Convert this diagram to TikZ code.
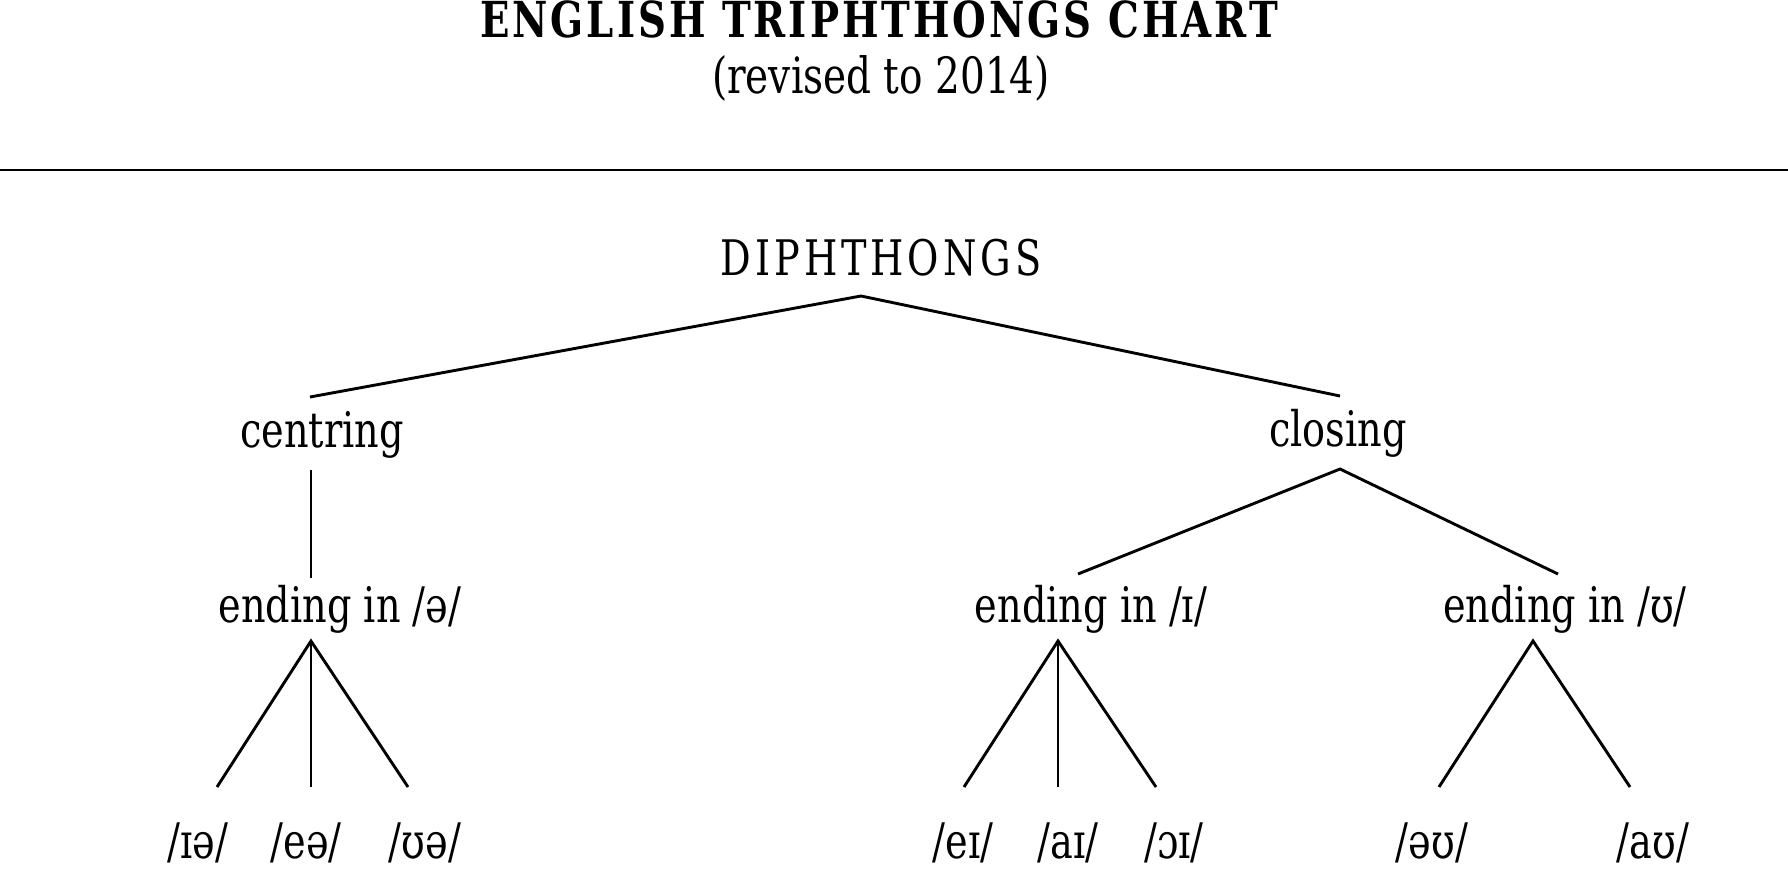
\documentclass[tikz,border=0pt]{standalone}
\usepackage{fontspec}
\setmainfont{DejaVu Serif}[FakeStretch=0.78]
\newfontfamily\titlefont{DejaVu Serif}[FakeStretch=0.78,LetterSpace=6]
\newfontfamily\dipfont{DejaVu Serif}[FakeStretch=0.78,LetterSpace=8]
\begin{document}
\begin{tikzpicture}[x=0.5pt,y=-0.5pt,
  lbl/.style={anchor=base,inner sep=0pt,font=\fontsize{24.5}{28}\selectfont},
  branch/.style={line width=1.45pt,line cap=butt},
  rulestyle/.style={line width=1.45pt}]
\useasboundingbox (0,0) rectangle (1788,878);
% title
\node[anchor=base,inner sep=0pt,font=\titlefont\bfseries\fontsize{24.8}{28}\selectfont] (title) at (879,38) {ENGLISH TRIPHTHONGS CHART};
\node[anchor=base,inner sep=0pt,font=\fontsize{25}{28}\selectfont] (sub) at (881,93) {(revised to 2014)};
\coordinate (rl) at (0,170);
\coordinate (rr) at (1788,170);
\draw[rulestyle] (rl) -- (rr);
% labels
\node[lbl,font=\dipfont\fontsize{24.5}{28}\selectfont] (dip) at (881,275) {DIPHTHONGS};
\node[lbl] (cen) at (322,447) {centring};
\node[lbl] (clo) at (1338,446) {closing};
\node[lbl] (ea) at (340,622) {ending in /ə/};
\node[lbl] (ei) at (1091,622) {ending in /ɪ/};
\node[lbl] (eu) at (1565,622) {ending in /ʊ/};
\node[lbl] (l1) at (198,858) {/ɪə/};
\node[lbl] (l2) at (306,858) {/eə/};
\node[lbl] (l3) at (425,858) {/ʊə/};
\node[lbl] (l4) at (963,858) {/eɪ/};
\node[lbl] (l5) at (1068,858) {/aɪ/};
\node[lbl] (l6) at (1174,858) {/ɔɪ/};
\node[lbl] (l7) at (1432,858) {/əʊ/};
\node[lbl] (l8) at (1653,858) {/aʊ/};
% connector points
\coordinate (dipB) at (861,296);
\coordinate (cenT) at (310,397);
\coordinate (cloT) at (1340,396);
\coordinate (cenB) at (311,470);
\coordinate (eaT) at (311,578);
\coordinate (cloB) at (1340,469);
\coordinate (eiT) at (1078,574);
\coordinate (euT) at (1558,574);
\coordinate (eaB) at (311,641);
\coordinate (eiB) at (1058,641);
\coordinate (euB) at (1533,641);
\coordinate (l1T) at (217,787);
\coordinate (l2T) at (311,787);
\coordinate (l3T) at (408,787);
\coordinate (l4T) at (964,787);
\coordinate (l5T) at (1058,787);
\coordinate (l6T) at (1156,787);
\coordinate (l7T) at (1439,787);
\coordinate (l8T) at (1630,787);
\draw[branch] (cenT) -- (dipB) -- (cloT);
\draw[branch] (cenB) -- (eaT);
\draw[branch] (eiT) -- (cloB) -- (euT);
\draw[branch] (l1T) -- (eaB) -- (l3T);
\draw[branch] (eaB) -- (l2T);
\draw[branch] (l4T) -- (eiB) -- (l6T);
\draw[branch] (eiB) -- (l5T);
\draw[branch] (l7T) -- (euB) -- (l8T);
\end{tikzpicture}
\end{document}
